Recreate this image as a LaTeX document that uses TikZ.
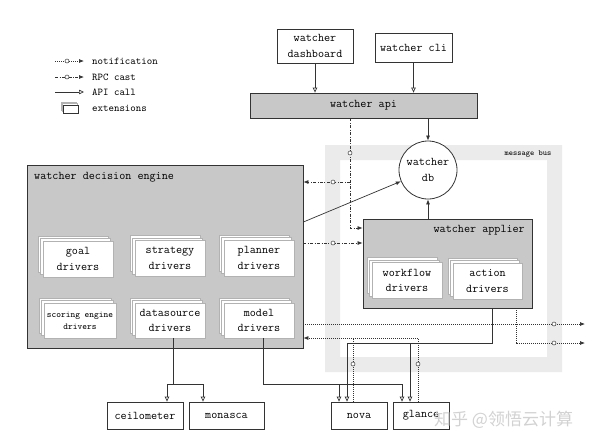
\documentclass[tikz,border=0pt]{standalone}
\usepackage{fontspec}
\newfontfamily\cjk{Noto Sans CJK SC}
\usetikzlibrary{arrows.meta,shadows,calc}

\definecolor{boxgray}{HTML}{C8C8C8}
\definecolor{linec}{HTML}{333333}
\definecolor{busgray}{HTML}{EBEBEB}

\tikzset{
 mainfont/.style={font=\ttfamily\fontsize{11.8}{15.5}\selectfont},
 box/.style={draw=linec, line width=0.8pt, fill=white, inner sep=1pt, align=center, mainfont},
 graybox/.style={draw=linec, line width=0.8pt, fill=boxgray, inner sep=1pt, align=center, mainfont},
 extshift/.style={double copy shadow={shadow xshift=-#1, shadow yshift=#1, draw=gray!60, fill=white, line width=0.5pt}},
 ext/.style={box, extshift=2.5pt, draw=gray!60, line width=0.5pt, minimum width=70pt, minimum height=36pt},
 iconext/.style={draw=linec, fill=white, line width=0.6pt, inner sep=0pt, extshift=1.3pt, minimum width=15pt, minimum height=8pt},
 conn/.style={draw=linec, line width=0.7pt},
 api/.style={conn, -{Triangle[open,length=5pt,width=4.5pt]}},
 rpc/.style={conn, dash pattern=on 3pt off 1.5pt on 0.8pt off 1.5pt},
 notif/.style={conn, dash pattern=on 1pt off 1pt},
 tip/.style={-{Latex[length=5pt,width=4pt]}},
 ring/.style={circle, draw=linec, fill=white, inner sep=0pt, minimum size=4pt, line width=0.5pt},
 legend/.style={font=\ttfamily\fontsize{10.4}{12}\selectfont, anchor=west, inner sep=0pt},
}

\begin{document}
\begin{tikzpicture}[x=1pt,y=-1pt]
\useasboundingbox (0,0) rectangle (593,445);
\fill[white] (0,0) rectangle (593,445);

% message bus ring
\fill[busgray, even odd rule] (325,145) rectangle (562,372) (340,160) rectangle (547,357);
\node[font=\ttfamily\fontsize{8}{9}\selectfont, inner sep=0pt] (bus) at (528,154) {message bus};

% legend
\coordinate (l1a) at (55,61); \coordinate (l1b) at (84,61);
\coordinate (l2a) at (55,77); \coordinate (l2b) at (84,77);
\coordinate (l3a) at (55,92); \coordinate (l3b) at (84,92);
\draw[notif, tip] (l1a) -- (l1b);
\draw[rpc, tip] (l2a) -- (l2b);
\draw[api] (l3a) -- (l3b);
\node[ring] (l1c) at (67,61) {};
\node[ring] (l2c) at (67,77) {};
\node[legend] (l1t) at (92,61) {notification};
\node[legend] (l2t) at (92,77) {RPC cast};
\node[legend] (l3t) at (92,92) {API call};
\node[iconext] (l4i) at (71,109) {};
\node[legend] (l4t) at (92,108) {extensions};

% top boxes
\node[box, minimum width=76pt, minimum height=34pt] (dash) at (315,46) {watcher\\dashboard};
\node[box, minimum width=77pt, minimum height=29pt] (cli) at (413.5,47.5) {watcher cli};
\node[graybox, minimum width=227pt, minimum height=25pt] (api) at (363.5,105.5) {watcher api};

% db
\node[circle, draw=linec, line width=0.8pt, fill=white, minimum size=58pt, inner sep=0pt, align=center, mainfont] (db) at (428,170) {watcher\\db};

% decision engine
\node[graybox, minimum width=276pt, minimum height=183pt] (engine) at (165,256.5) {};
\node[anchor=west, mainfont, inner sep=0pt] (engtitle) at (34,177) {watcher decision engine};
\node[ext] (goal) at (78,259) {goal\\drivers};
\node[ext] (strategy) at (170,258.5) {strategy\\drivers};
\node[ext] (planner) at (259,258) {planner\\drivers};
\node[ext, minimum width=72pt, minimum height=35pt, font=\ttfamily\fontsize{9}{12}\selectfont] (scoring) at (80,320.5) {scoring engine\\drivers};
\node[ext, minimum height=35pt] (datasource) at (170,320.5) {datasource\\drivers};
\node[ext, minimum height=35pt] (model) at (259,320.5) {model\\drivers};

% applier
\node[graybox, minimum width=169pt, minimum height=89pt] (applier) at (447.5,263.5) {};
\node[anchor=east, mainfont, inner sep=0pt] (aptitle) at (525,230) {watcher applier};
\node[ext] (workflow) at (407,280.5) {workflow\\drivers};
\node[ext, minimum width=69pt] (action) at (487.5,281) {action\\drivers};

% bottom boxes
\node[box, minimum width=76pt, minimum height=27pt] (ceilometer) at (145,415.5) {ceilometer};
\node[box, minimum width=75pt, minimum height=27pt] (monasca) at (226.5,415.5) {monasca};
\node[box, minimum width=56pt, minimum height=27pt] (nova) at (359,415.5) {nova};
\node[box, minimum width=56pt, minimum height=27pt] (glance) at (421,415.5) {glance};

% API calls
\draw[api] (dash.south) -- (dash.south |- api.north);
\draw[api] (cli.south) -- (cli.south |- api.north);

% solid filled arrows
\draw[conn, tip] (api.south -| db) -- (db.north);
\draw[conn, tip] (applier.north -| db) -- (db.south);
\coordinate (e2) at (303,222);
\draw[conn, tip] (engine.east |- e2) -- (db);

% RPC casts
\coordinate (r1) at (350,228);
\draw[rpc, tip] (api.south -| r1) -- (r1) -- (applier.west |- r1);
\coordinate (r2) at (350,182);
\draw[rpc, tip] (r2) -- (engine.east |- r2);
\coordinate (r3) at (333,243);
\draw[rpc, tip] (engine.east |- r3) -- (applier.west |- r3);
\node[ring] (r1c) at (350,153) {};
\node[ring] (r2c) at (333,182) {};
\node[ring] (r3c) at (r3) {};

% notifications
\coordinate (n1) at (585,324);
\draw[notif, tip] (engine.east |- n1) -- (n1);
\coordinate (n2a) at (516,343); \coordinate (n2b) at (585,343);
\draw[notif, tip] (applier.south -| n2a) -- (n2a) -- (n2b);
\coordinate (n3) at (418,338); \coordinate (n4) at (353,338);
\draw[notif, tip] (glance.north -| n3) -- (n3) -- (engine.east |- n3);
\draw[notif] (nova.north -| n4) -- (n4);
\node[ring] (n1c) at (554,324) {};
\node[ring] (n2c) at (554,343) {};
\node[ring] (n3c) at (418,364) {};
\node[ring] (n4c) at (353,364) {};

% API calls from applier
\coordinate (a1) at (492,343); \coordinate (a2) at (347,343); \coordinate (a3) at (410,343);
\draw[api] (applier.south -| a1) -- (a1) -- (a2) -- (nova.north -| a2);
\draw[api] (a3) -- (glance.north -| a3);

% API calls from model drivers
\coordinate (m1) at (263,384); \coordinate (m2) at (402,384); \coordinate (m3) at (339,384);
\draw[api] (model.south -| m1) -- (m1) -- (m2) -- (glance.north -| m2);
\draw[api] (m3) -- (nova.north -| m3);

% API calls from datasource drivers
\coordinate (d1) at (173,384); \coordinate (d2) at (167,384); \coordinate (d3) at (203,384);
\draw[conn] (datasource.south -| d1) -- (d1);
\draw[api] (d1) -- (d2) -- (ceilometer.north -| d2);
\draw[api] (d1) -- (d3) -- (monasca.north -| d3);

% watermark
\node[font=\cjk\fontsize{17}{18}\selectfont, text=gray!35, anchor=west, inner sep=0pt] (wm) at (434,420) {知乎 @领悟云计算};
\end{tikzpicture}
\end{document}
